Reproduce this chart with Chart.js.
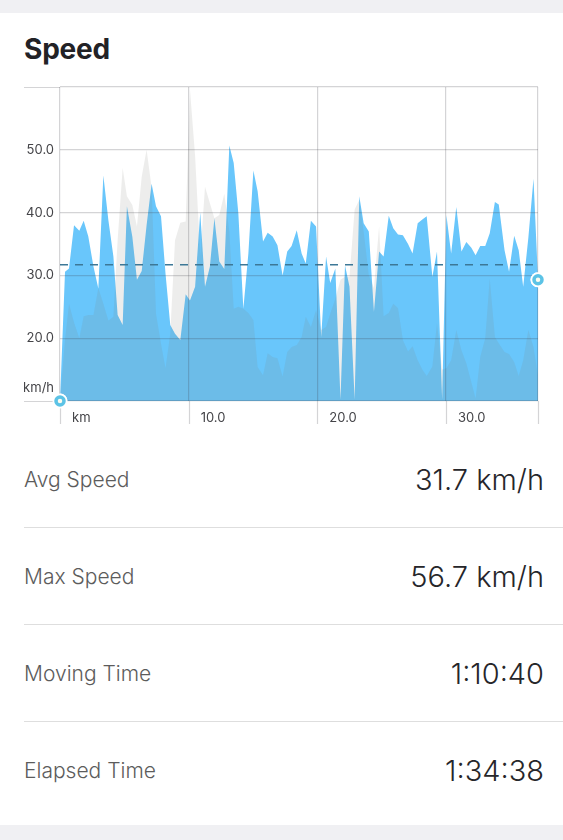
<!DOCTYPE html>
<html>
<head>
<meta charset="utf-8">
<script src="https://cdn.jsdelivr.net/npm/chart.js@4"></script>
<style>
  html, body { margin: 0; padding: 0; background: #f0f0f3; font-family: Inter, sans-serif; }
  .card { position: absolute; left: 0; top: 13px; width: 563px; height: 812px; background: #fff; }
  h2 { position: absolute; left: 24px; top: 19px; margin: 0; font-size: 28px; line-height: 34px; font-weight: 700; color: #222226; letter-spacing: -0.2px; }
  .chart-box { position: absolute; left: 0; top: 57px; width: 563px; height: 360px; }
  .row { position: absolute; left: 24px; width: 539px; height: 96px; display: flex; align-items: center; justify-content: space-between; border-bottom: 1px solid #dedede; }
  .row:last-child { border-bottom: none; }
  .row span:first-child { font-size: 21px; font-weight: 300; color: #5c5c5c; }
  .row span:last-child { font-size: 29px; font-weight: 300; color: #26262a; margin-right: 19px; }
</style>
</head>
<body>
<div class="card">
  <h2>Speed</h2>
  <div class="chart-box"><canvas id="speedChart"></canvas></div>
  <div class="row" style="top:418px"><span>Avg Speed</span><span>31.7 km/h</span></div>
  <div class="row" style="top:515px"><span>Max Speed</span><span>56.7 km/h</span></div>
  <div class="row" style="top:612px"><span>Moving Time</span><span>1:10:40</span></div>
  <div class="row" style="top:709px"><span>Elapsed Time</span><span>1:34:38</span></div>
</div>
<script>
// distance samples
var kmValues = [0, 0.39, 0.7, 1.09, 1.5, 1.84, 2.2, 2.6, 2.98, 3.37, 3.76, 4.15, 4.48, 4.87, 5.2, 5.62, 5.98, 6.35, 6.73, 7.12,
  7.46, 7.85, 8.2, 8.57, 8.94, 9.35, 9.77, 10.1, 10.5, 10.9, 11.27, 11.65, 12, 12.38, 12.77, 13.16, 13.5, 13.86, 14.25, 14.64,
  15.03, 15.36, 15.78, 16.14, 16.53, 16.9, 17.3, 17.66, 18, 18.4, 18.78, 19.1, 19.5, 19.9, 20.3, 20.68, 21, 21.4, 21.8, 22.15,
  22.5, 22.9, 23.26, 23.6, 24, 24.4, 24.8, 25.15, 25.55, 25.9, 26.27, 26.65, 27.05, 27.4, 27.8, 28.16, 28.5, 28.94, 29.3, 29.7,
  30.03, 30.4, 30.8, 31.2, 31.58, 31.97, 32.3, 32.66, 33.05, 33.4, 33.8, 34.1, 34.55, 34.9, 35.3, 35.65, 36, 36.4, 36.8, 37.15];

var speedValues = [10, 30.6, 31.1, 38, 37.1, 38.7, 36.2, 31.4, 27.9, 45.9, 38.8, 33, 23.7, 22.1, 41, 36.2, 29.3, 30.7, 38, 44.6,
  41, 39.4, 30.3, 22.1, 20.7, 19.7, 27, 26, 28.2, 40, 28.2, 31.4, 39.1, 32.2, 31, 50.7, 47.9, 39.9, 24.7, 33.5,
  46.7, 43.4, 35.4, 36.8, 36.2, 34.8, 30, 33.8, 34.7, 37.2, 33.5, 31.9, 38.7, 37.8, 20.2, 33, 28.8, 31.1, 10.2, 31.6,
  28.2, 10.2, 42.6, 38.3, 37, 24.2, 33.8, 33, 39.5, 37.5, 36.5, 36.4, 35, 33.5, 38.3, 38.9, 39.4, 29.8, 33.8, 10.2,
  39.6, 33.5, 40.9, 33.8, 35.3, 34.4, 33.2, 34.7, 34.7, 36.7, 41.7, 41.3, 34, 30.6, 36.3, 34, 28.2, 36, 45.4, 29.3];

// the grey series that lies over the blue one
var otherValues = [10, 19.7, 25.5, 22.5, 20, 23.5, 23.7, 23.7, 28, 25.5, 22.8, 23.4, 35.6, 47.1, 42.6, 41.2, 37.8, 45.7, 50, 44,
  23.9, 19.1, 15.2, 20.7, 35.6, 38.4, 38.6, 59.6, 49, 33, 44.1, 41.5, 39.1, 39.6, 43, 37, 24.7, 25, 24.7, 24,
  22.9, 15.4, 14.1, 17.6, 17, 16.8, 13.9, 17.8, 18.6, 18.9, 20.2, 23.4, 21.8, 24.5, 21.3, 21.8, 23.9, 26.3, 29.3, 29.8,
  29.8, 40.5, 42, 37, 30, 28, 37.8, 23.5, 24, 25.5, 24.8, 19.7, 17.9, 18.7, 16.5, 15, 14, 15.5, 22.4, 15,
  15.2, 16.5, 21.3, 18.1, 16, 13, 10.4, 17, 20, 29.5, 20.2, 19.2, 17.8, 17.5, 16.2, 14, 16.5, 21.3, 18.6, 14];

var avgSpeed = 31.7;
var xTicks = [0, 10, 20, 30, 37.15];
var xLabels = ['km', '10.0', '20.0', '30.0', ''];
var yTicks = [10, 20, 30, 40, 50, 60];
var yLabels = ['', '20.0', '30.0', '40.0', '50.0', ''];
var markerKm = [0, 37.15];
var markerSpeed = [10, 29.3];

var GRID = 'rgba(60,60,70,0.22)';

function toPoints(xs, ys) {
  return xs.map(function (x, i) { return { x: x, y: ys[i] }; });
}

// short grid stubs outside the plot, the km/h unit label, markers above the grid
var axisExtras = {
  id: 'axisExtras',
  afterDraw: function (chart) {
    var ctx = chart.ctx, xs = chart.scales.x, ys = chart.scales.y;
    var base = ys.getPixelForValue(10);
    ctx.save();
    ctx.strokeStyle = GRID;
    ctx.lineWidth = 1.2;
    [10, 60].forEach(function (v) {
      var p = Math.round(ys.getPixelForValue(v)) + 0.5;
      ctx.beginPath(); ctx.moveTo(24, p); ctx.lineTo(xs.left, p); ctx.stroke();
    });
    xTicks.forEach(function (v) {
      var p = Math.round(xs.getPixelForValue(v)) + 0.5;
      ctx.beginPath(); ctx.moveTo(p, base); ctx.lineTo(p, base + 23); ctx.stroke();
    });
    ctx.fillStyle = '#444448';
    ctx.font = '13px Inter';
    ctx.textAlign = 'right';
    ctx.textBaseline = 'middle';
    ctx.fillText('km/h', 54, base - 13);
    ctx.restore();
    chart.getDatasetMeta(1).controller.draw();
    chart.getDatasetMeta(0).controller.draw();
  }
};

new Chart(document.getElementById('speedChart'), {
  type: 'line',
  data: {
    datasets: [
      { data: toPoints(markerKm, markerSpeed), order: 1, showLine: false, clip: false,
        pointRadius: 4, pointBorderWidth: 3.5, pointBackgroundColor: '#fdfcf0', pointBorderColor: '#5cc3e6' },
      { data: toPoints(markerKm, markerSpeed), order: 2, showLine: false, clip: false,
        pointRadius: 7.5, pointBorderWidth: 0, pointBackgroundColor: '#ffffff' },
      { data: toPoints([0, 37.15], [avgSpeed, avgSpeed]), order: 3, pointRadius: 0,
        borderColor: '#3d7897', borderWidth: 1.6, borderDash: [8, 7] },
      { data: toPoints(kmValues, otherValues), order: 4, pointRadius: 0, borderWidth: 0, tension: 0,
        fill: 'start', backgroundColor: 'rgba(125,130,120,0.14)' },
      { data: toPoints(kmValues, speedValues), order: 5, pointRadius: 0, borderWidth: 0, tension: 0,
        fill: 'start', backgroundColor: '#69c6fb' }
    ]
  },
  options: {
    responsive: true,
    maintainAspectRatio: false,
    animation: false,
    layout: { padding: { top: 17, right: 25 } },
    plugins: { legend: { display: false }, tooltip: { enabled: false } },
    scales: {
      x: {
        type: 'linear', min: 0, max: 37.15,
        afterBuildTicks: function (s) { s.ticks = xTicks.map(function (v) { return { value: v }; }); },
        afterFit: function (s) { s.height = 29; },
        grid: { color: GRID, lineWidth: 1.2, z: 1, drawTicks: false },
        border: { display: false },
        ticks: {
          autoSkip: false, maxRotation: 0, align: 'start', labelOffset: 12, padding: 9,
          color: '#444448', font: { family: 'Inter', size: 13 },
          callback: function (v) { return xLabels[xTicks.indexOf(v)]; }
        }
      },
      y: {
        min: 10, max: 60,
        afterBuildTicks: function (s) { s.ticks = yTicks.map(function (v) { return { value: v }; }); },
        afterFit: function (s) { s.width = 60; },
        grid: { color: GRID, lineWidth: 1.2, z: 1, drawTicks: false },
        border: { display: false },
        ticks: {
          padding: 6, color: '#444448', font: { family: 'Inter', size: 13 },
          callback: function (v) { return yLabels[yTicks.indexOf(v)]; }
        }
      }
    }
  },
  plugins: [axisExtras]
});
</script>
</body>
</html>
